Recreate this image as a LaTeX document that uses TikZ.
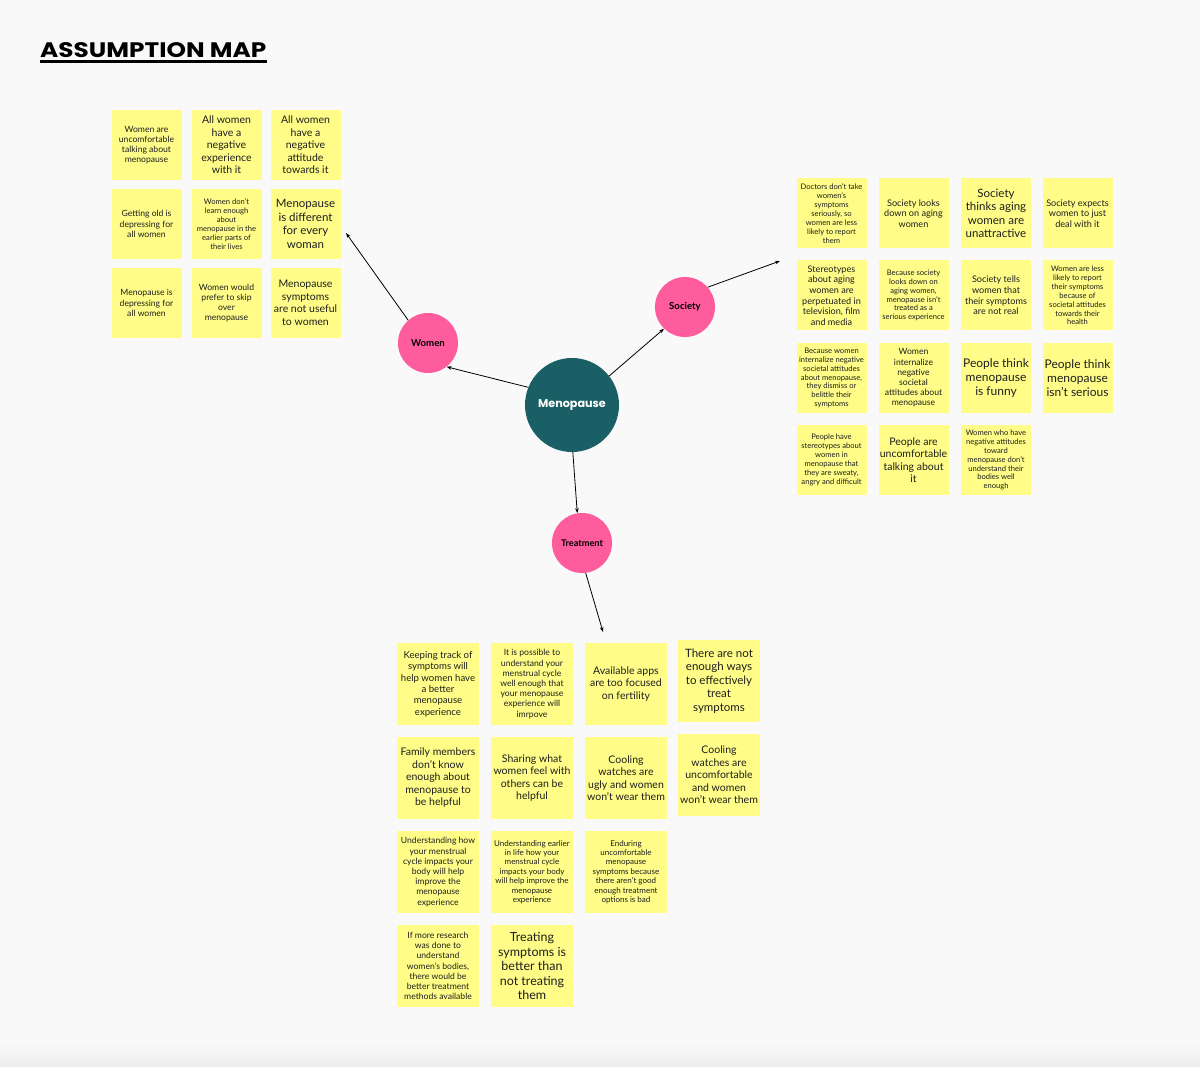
\documentclass[tikz,border=0pt]{standalone}
\usepackage{fontspec}
\usepackage{graphicx}
\setmainfont{Lato}
\newfontfamily\titlefont{Poppins}
\usetikzlibrary{arrows.meta}
\definecolor{bgcol}{HTML}{F9F9F9}
\definecolor{bgbot}{HTML}{EDEDED}
\definecolor{noteyellow}{HTML}{FFFD88}
\definecolor{hubpink}{HTML}{FF5C9D}
\definecolor{coreteal}{HTML}{1B5F66}
\definecolor{inkcol}{HTML}{1E1E1E}
\tikzset{
  fsA/.style={font=\fontsize{7.6}{8.9}\selectfont},
  fsAb/.style={font=\fontsize{8}{9.4}\selectfont},
  fsB/.style={font=\fontsize{8.6}{10.2}\selectfont},
  fsC/.style={font=\fontsize{9.1}{10.7}\selectfont},
  fsD/.style={font=\fontsize{9.6}{11.4}\selectfont},
  fsE/.style={font=\fontsize{10.5}{12.5}\selectfont},
  fsG/.style={font=\fontsize{11.5}{13.5}\selectfont},
  fsH/.style={font=\fontsize{12}{14}\selectfont},
  fsI/.style={font=\fontsize{12.5}{14.5}\selectfont},
  notesm/.style={fill=noteyellow, minimum width=70, minimum height=70, inner sep=0, align=center, text=inkcol},
  notelg/.style={fill=noteyellow, minimum width=82, minimum height=82, inner sep=0, align=center, text=inkcol},
  hub/.style={circle, fill=hubpink, minimum size=60, inner sep=0, font=\bfseries\fontsize{9.6}{11}\selectfont, text=black},
  core/.style={circle, fill=coreteal, minimum size=94, inner sep=0, font=\titlefont\bfseries\fontsize{11.2}{14}\selectfont, text=white},
  link/.style={draw=black, line width=0.8pt, -{Stealth[length=5pt,width=3.6pt]}}
}
\begin{document}
\begin{tikzpicture}[x=1pt,y=-1pt]
\fill[bgcol] (0,0) rectangle (1200,1067);
\shade[top color=bgcol, bottom color=bgbot] (0,1042) rectangle (1200,1067);
\useasboundingbox (0,0) rectangle (1200,1067);

% title
\node[anchor=base west, inner sep=0, font=\titlefont\bfseries\fontsize{21}{24}\selectfont, text=black] (title) at (40,58) {\scalebox{1.18}[1]{ASSUMPTION MAP}};
\draw[line width=2.6pt, black] ([yshift=-3.6pt]title.base west) -- ([yshift=-3.6pt]title.base east);

% women notes
\node[notesm, fsB] (w1) at (146.5,145) {Women are\\uncomfortable\\talking about\\menopause};
\node[notesm, fsE] (w2) at (226.5,145) {All women\\have a\\negative\\experience\\with it};
\node[notesm, fsE] (w3) at (305.5,145) {All women\\have a\\negative\\attitude\\towards it};
\node[notesm, fsB] (w4) at (146.5,224) {Getting old is\\depressing for\\all women};
\node[notesm, fsA] (w5) at (226.5,224) {Women don't\\learn enough\\about\\menopause in the\\earlier parts of\\their lives};
\node[notesm, fsG] (w6) at (305.5,224) {Menopause\\is different\\for every\\woman};
\node[notesm, fsB] (w7) at (146.5,303) {Menopause is\\depressing for\\all women};
\node[notesm, fsB] (w8) at (226.5,303) {Women would\\prefer to skip\\over\\menopause};
\node[notesm, fsE] (w9) at (305.5,303) {Menopause\\symptoms\\are not useful\\to women};

% society notes
\node[notesm, fsA] (s1) at (831.5,213.5) {Doctors don't take\\women's\\symptoms\\seriously, so\\women are less\\likely to report\\them};
\node[notesm, fsC] (s2) at (913.5,213.5) {Society looks\\down on aging\\women};
\node[notesm, fsG] (s3) at (996,213.5) {Society\\thinks aging\\women are\\unattractive};
\node[notesm, fsC] (s4) at (1077.5,213.5) {Society expects\\women to just\\deal with it};
\node[notesm, fsC] (s5) at (831.5,295.5) {Stereotypes\\about aging\\women are\\perpetuated in\\television, film\\and media};
\node[notesm, fsA] (s6) at (913.5,295.5) {Because society\\looks down on\\aging women,\\menopause isn't\\treated as a\\serious experience};
\node[notesm, fsC] (s7) at (996,295.5) {Society tells\\women that\\their symptoms\\are not real};
\node[notesm, fsA] (s8) at (1077.5,295.5) {Women are less\\likely to report\\their symptoms\\because of\\societal attitudes\\towards their\\health};
\node[notesm, fsA] (s9) at (831.5,378) {Because women\\internalize negative\\societal attitudes\\about menopause,\\they dismiss or\\belittle their\\symptoms};
\node[notesm, fsB] (s10) at (913.5,378) {Women\\internalize\\negative\\societal\\attitudes about\\menopause};
\node[notesm, fsH] (s11) at (996,378) {People think\\menopause\\is funny};
\node[notesm, fsH] (s12) at (1077.5,378) {People think\\menopause\\isn't serious};
\node[notesm, fsA] (s13) at (831.5,460) {People have\\stereotypes about\\women in\\menopause that\\they are sweaty,\\angry and difficult};
\node[notesm, fsE] (s14) at (913.5,460) {People are\\uncomfortable\\talking about\\it};
\node[notesm, fsA] (s15) at (996,460) {Women who have\\negative attitudes\\toward\\menopause don't\\understand their\\bodies well\\enough};

% treatment notes
\node[notelg, fsD] (t1) at (438,684) {Keeping track of\\symptoms will\\help women have\\a better\\menopause\\experience};
\node[notelg, fsB] (t2) at (532,684) {It is possible to\\understand your\\menstrual cycle\\well enough that\\your menopause\\experience will\\imrpove};
\node[notelg, fsE] (t3) at (626,684) {Available apps\\are too focused\\on fertility};
\node[notelg, fsG] (t4) at (719,681) {There are not\\enough ways\\to effectively\\treat\\symptoms};
\node[notelg, fsE] (t5) at (438,778) {Family members\\don't know\\enough about\\menopause to\\be helpful};
\node[notelg, fsE] (t6) at (532,778) {Sharing what\\women feel with\\others can be\\helpful};
\node[notelg, fsE] (t7) at (626,778) {Cooling\\watches are\\ugly and women\\won't wear them};
\node[notelg, fsE] (t8) at (719,775) {Cooling\\watches are\\uncomfortable\\and women\\won't wear them};
\node[notelg, fsB] (t9) at (438,872) {Understanding how\\your menstrual\\cycle impacts your\\body will help\\improve the\\menopause\\experience};
\node[notelg, fsAb] (t10) at (532,872) {Understanding earlier\\in life how your\\menstrual cycle\\impacts your body\\will help improve the\\menopause\\experience};
\node[notelg, fsAb] (t11) at (626,872) {Enduring\\uncomfortable\\menopause\\symptoms because\\there aren't good\\enough treatment\\options is bad};
\node[notelg, fsB] (t12) at (438,966) {If more research\\was done to\\understand\\women's bodies,\\there would be\\better treatment\\methods available};
\node[notelg, fsI] (t13) at (532,966) {Treating\\symptoms is\\better than\\not treating\\them};

% hubs
\node[core] (meno) at (572,405) {Menopause};
\node[hub] (women) at (428,343) {Women};
\node[hub] (society) at (685,307) {Society};
\node[hub, font=\bfseries\fontsize{9.2}{10}\selectfont] (treat) at (582,543) {Treatment};

\coordinate (wend) at (346,233);
\coordinate (send) at (780,261);
\coordinate (tend) at (603,632);

\draw[link] (meno.158) -- (women.308);
\draw[link] (women.131) -- (wend);
\draw[link] (meno.38) -- (society.226);
\draw[link] (society.41) -- (send);
\draw[link] (meno.271) -- (treat.99);
\draw[link] (treat.277) -- (tend);
\end{tikzpicture}
\end{document}
